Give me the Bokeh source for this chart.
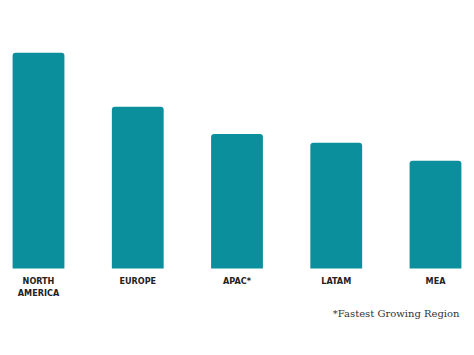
from bokeh.plotting import figure
from bokeh.models import ColumnDataSource, Range1d, Label
from bokeh.core.properties import value
from bokeh.embed import file_html
from bokeh.resources import INLINE

regions = ["NORTH\nAMERICA", "EUROPE", "APAC*", "LATAM", "MEA"]
positions = [0, 1, 2, 3, 4]
values = [100, 75, 62.3, 58.3, 50]
footnote = "*Fastest Growing Region"

BAR_COLOR = "#0b8f9c"

src = ColumnDataSource(dict(x=positions, top=values, label=regions))

p = figure(width=474, height=355, output_backend="svg", toolbar_location=None,
           x_range=Range1d(-0.383, 4.393), y_range=Range1d(-40.3, 124.2),
           min_border=0, min_border_left=0, min_border_right=0,
           min_border_top=0, min_border_bottom=0)
p.xaxis.visible = False
p.yaxis.visible = False
p.grid.visible = False
p.outline_line_color = None
p.background_fill_color = "white"
p.border_fill_color = "white"

p.vbar(x="x", top="top", bottom=0, width=0.522, source=src,
       fill_color=BAR_COLOR, line_color=None, border_radius=(3, 3, 0, 0))

p.text(x="x", y=0, text="label", source=src, y_offset=7,
       text_align="center", text_baseline="top",
       text_font=value("DejaVu Sans Condensed"), text_font_style="bold",
       text_font_size="9px", text_color="#222222", text_line_height=1.25)

p.add_layout(Label(x=459, y=42, x_units="screen", y_units="screen",
                   text=footnote, text_align="right", text_baseline="alphabetic",
                   text_font="DejaVu Serif", text_font_size="10px",
                   text_color="#333333"))

open("out.html", "w").write(file_html(p, INLINE))
